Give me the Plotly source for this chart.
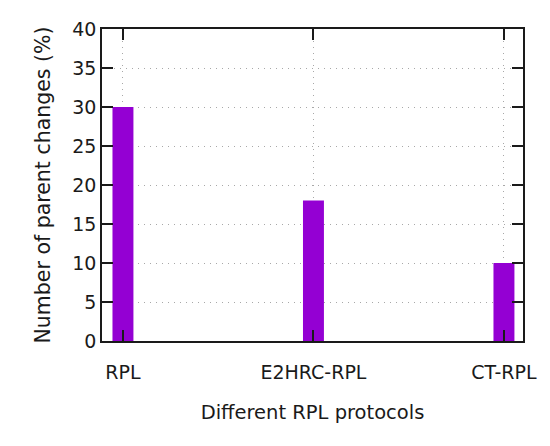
import plotly.graph_objects as go

protocols = ["RPL", "E2HRC-RPL", "CT-RPL"]
parent_changes = [30, 18, 10]
y_ticks = [0, 5, 10, 15, 20, 25, 30, 35, 40]

FONT = "DejaVu Sans"
INK = "#1a1a1a"

fig = go.Figure()
fig.add_trace(go.Bar(x=protocols, y=parent_changes, width=0.11,
                     marker=dict(color="#9400d3", line=dict(width=0)), showlegend=False))

axis_style = dict(showline=True, linecolor=INK, linewidth=1.5, mirror="allticks",
                  ticks="inside", ticklen=11, tickcolor=INK, tickwidth=2,
                  showgrid=True, gridcolor="#a8a8a8", griddash="1px,5px", gridwidth=1.2)

fig.update_layout(
    width=550, height=446,
    margin=dict(l=102, r=27, t=29, b=105),
    paper_bgcolor="white", plot_bgcolor="white",
    font=dict(family=FONT, size=19, color=INK),
    xaxis=dict(type="category", range=[-0.11, 2.1],
               title=dict(text="Different RPL protocols", standoff=24, font=dict(size=19.5)),
               ticklabelstandoff=13, tickfont=dict(size=19),
               **axis_style),
    yaxis=dict(range=[0, 40], tickvals=y_ticks, ticksuffix=" ",
               title=dict(text="Number of parent changes (%)", standoff=16, font=dict(size=20.5)),
               zeroline=False, tickfont=dict(size=19),
               **axis_style),
)

fig.write_html("out.html", config=dict(displayModeBar=False),
               post_script="document.body.style.margin='0';")
